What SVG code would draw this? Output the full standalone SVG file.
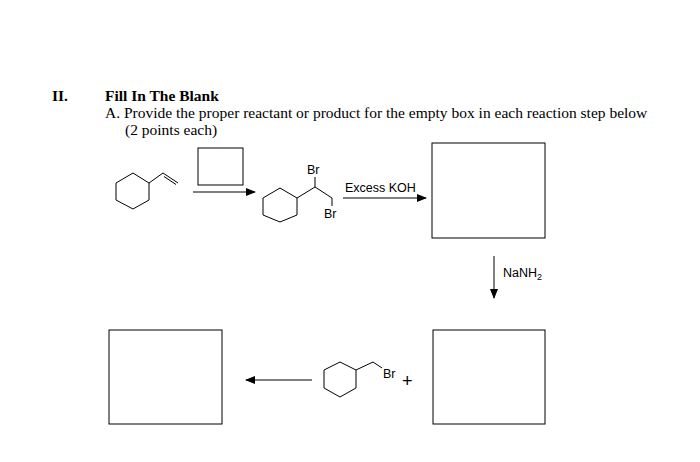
<svg xmlns="http://www.w3.org/2000/svg" width="700" height="462" viewBox="0 0 700 462">
<defs><marker id="ah" markerWidth="10" markerHeight="8" refX="9" refY="4" orient="auto" markerUnits="userSpaceOnUse"><path d="M0,0 L10,4 L0,8 Z" fill="#000"/></marker></defs>
<style>.t{font-family:"Liberation Serif",serif;font-size:15.5px;fill:#000}.s{font-family:"Liberation Sans",sans-serif;font-size:12.5px;fill:#000}.b{fill:none;stroke:#000;stroke-width:1}.m{fill:none;stroke:#000;stroke-width:1}</style>
<rect width="700" height="462" fill="#fff"/>
<g id="header">
<text class="t" x="52" y="101" font-weight="bold">II.</text>
<text class="t" x="105" y="101" font-weight="bold">Fill In The Blank</text>
<text class="t" x="105" y="118">A.  Provide the proper reactant or product for the empty box in each reaction step below</text>
<text class="t" x="125" y="135">(2 points each)</text>
</g>
<g id="vinylcyclohexane"><path class="m" d="M133,173 L149,183 L149,200 L133,209 L116,200 L116,183 Z M149,183 L163,173 L178,183 M164,176.5 L176,184.5"/></g>
<g id="box1"><rect class="b" x="198" y="148" width="45" height="37" stroke-width="1.3"/></g>
<g id="dibromide"><path class="m" d="M280,188 L297,198 L297,215 L280,222 L263,215 L263,198 Z M297,198 L315,187 L332,198 L332,206 M315,187 L315,177"/>
<text class="s" x="307" y="174">Br</text><text class="s" x="324" y="218">Br</text></g>
<g id="box2"><rect class="b" x="432" y="143" width="113" height="95"/></g>
<g id="box3"><rect class="b" x="433" y="330" width="112" height="94"/></g>
<g id="box4"><rect class="b" x="109" y="330" width="113" height="94"/></g>
<g id="bromomethyl"><path class="m" d="M340,362 L356,370 L356,388 L340,397 L324,388 L324,370 Z M356,370 L373,362 L382,368"/>
<text class="s" x="383" y="378">Br</text>
<text x="402" y="387" font-family="Liberation Sans" font-size="18">+</text></g>
<g id="connectors">
<line class="m" x1="193" y1="192" x2="255" y2="192" marker-end="url(#ah)"/>
<line class="m" x1="343" y1="198" x2="426" y2="198" marker-end="url(#ah)"/>
<text class="s" x="345" y="192">Excess KOH</text>
<line class="m" x1="494" y1="256" x2="494" y2="298" marker-end="url(#ah)"/>
<text class="s" x="503" y="277">NaNH<tspan font-size="9" dy="3">2</tspan></text>
<line class="m" x1="312" y1="380" x2="246" y2="380" marker-end="url(#ah)"/>
</g>
</svg>
